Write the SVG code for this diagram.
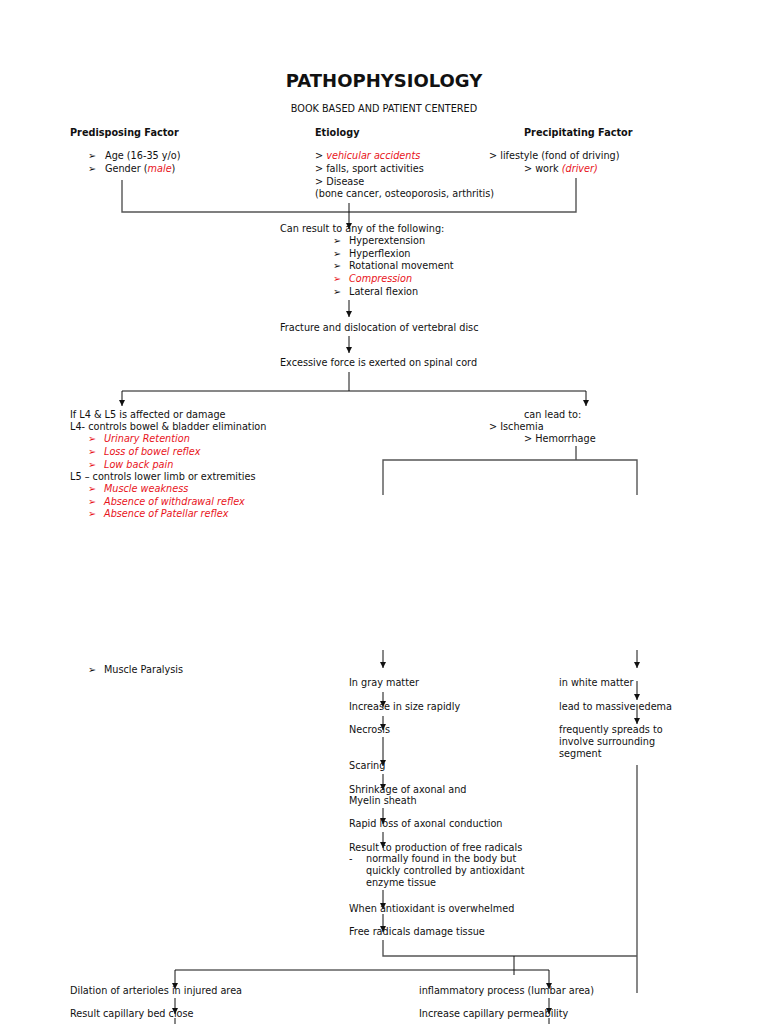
<svg xmlns="http://www.w3.org/2000/svg" width="768" height="1024" viewBox="0 0 768 1024">
<style>
text{font-family:"DejaVu Sans","Verdana",sans-serif;font-size:9.7px;fill:#111}
.b{font-weight:bold}
.r{fill:#e8141b;font-style:italic}
.rb{fill:#e8141b}
.t{font-size:18px;font-weight:bold}
.ln{stroke:#555;stroke-width:1.4;fill:none}
.th{stroke:#111;stroke-width:1;fill:none}
.ar{stroke:#111;stroke-width:1;fill:none;marker-end:url(#ah)}
</style>
<defs>
<marker id="ah" markerUnits="userSpaceOnUse" markerWidth="7" markerHeight="6" refX="6" refY="3" orient="auto" viewBox="0 0 7 6">
<path d="M0,0 L6,3 L0,6 Z" fill="#111"/>
</marker>
</defs>
<rect width="768" height="1024" fill="#fff"/>

<g id="header">
<text class="t" x="384" y="87" text-anchor="middle">PATHOPHYSIOLOGY</text>
<text x="384" y="112" text-anchor="middle">BOOK BASED AND PATIENT CENTERED</text>
</g>

<g id="predisposing">
<text class="b" x="70" y="136">Predisposing Factor</text>
<text x="88" y="159">➢</text><text x="105" y="159">Age (16-35 y/o)</text>
<text x="88" y="172">➢</text><text x="105" y="172">Gender (<tspan class="r">male</tspan>)</text>
</g>

<g id="etiology">
<text class="b" x="315" y="136">Etiology</text>
<text x="315" y="159">&gt; <tspan class="r">vehicular accidents</tspan></text>
<text x="315" y="172">&gt; falls, sport activities</text>
<text x="315" y="185">&gt; Disease</text>
<text x="315" y="197">(bone cancer, osteoporosis, arthritis)</text>
</g>

<g id="precipitating">
<text class="b" x="524" y="136">Precipitating Factor</text>
<text x="489" y="159">&gt; lifestyle (fond of driving)</text>
<text x="524" y="172">&gt; work <tspan class="r">(driver)</tspan></text>
</g>

<g id="result">
<text x="280" y="232">Can result to any of the following:</text>
<text x="333" y="244">➢</text><text x="349" y="244">Hyperextension</text>
<text x="333" y="257">➢</text><text x="349" y="257">Hyperflexion</text>
<text x="333" y="269">➢</text><text x="349" y="269">Rotational movement</text>
<text class="rb" x="333" y="282">➢</text><text class="r" x="349" y="282">Compression</text>
<text x="333" y="295">➢</text><text x="349" y="295">Lateral flexion</text>
</g>

<g id="fracture"><text x="280" y="331">Fracture and dislocation of vertebral disc</text></g>
<g id="force"><text x="280" y="366">Excessive force is exerted on spinal cord</text></g>

<g id="l4l5">
<text x="70" y="418">If L4 &amp; L5 is affected or damage</text>
<text x="70" y="430">L4- controls bowel &amp; bladder elimination</text>
<text class="rb" x="88" y="442">➢</text><text class="r" x="104" y="442">Urinary Retention</text>
<text class="rb" x="88" y="455">➢</text><text class="r" x="104" y="455">Loss of bowel reflex</text>
<text class="rb" x="88" y="468">➢</text><text class="r" x="104" y="468">Low back pain</text>
<text x="70" y="480">L5 – controls lower limb or extremities</text>
<text class="rb" x="88" y="492">➢</text><text class="r" x="104" y="492">Muscle weakness</text>
<text class="rb" x="88" y="505">➢</text><text class="r" x="104" y="505">Absence of withdrawal reflex</text>
<text class="rb" x="88" y="517">➢</text><text class="r" x="104" y="517">Absence of Patellar reflex</text>
</g>

<g id="paralysis">
<text x="88" y="673">➢</text><text x="104" y="673">Muscle Paralysis</text>
</g>

<g id="leadto">
<text x="524" y="418">can lead to:</text>
<text x="489" y="430">&gt; Ischemia</text>
<text x="524" y="442">&gt; Hemorrhage</text>
</g>

<g id="gray">
<text x="349" y="686">In gray matter</text>
<text x="349" y="710">Increase in size rapidly</text>
<text x="349" y="733">Necrosis</text>
<text x="349" y="769">Scaring</text>
<text x="349" y="793">Shrinkage of axonal and</text>
<text x="349" y="804">Myelin sheath</text>
<text x="349" y="827">Rapid loss of axonal conduction</text>
<text x="349" y="851">Result to production of free radicals</text>
<text x="349" y="862">-</text><text x="366" y="862">normally found in the body but</text>
<text x="366" y="874">quickly controlled by antioxidant</text>
<text x="366" y="886">enzyme tissue</text>
<text x="349" y="912">When antioxidant is overwhelmed</text>
<text x="349" y="935">Free radicals damage tissue</text>
</g>

<g id="white">
<text x="559" y="686">in white matter</text>
<text x="559" y="710">lead to massive edema</text>
<text x="559" y="733">frequently spreads to</text>
<text x="559" y="745">involve surrounding</text>
<text x="559" y="757">segment</text>
</g>

<g id="dilation">
<text x="70" y="994">Dilation of arterioles in injured area</text>
<text x="70" y="1017">Result capillary bed close</text>
</g>

<g id="inflammatory">
<text x="419" y="994">inflammatory process (lumbar area)</text>
<text x="419" y="1017">Increase capillary permeability</text>
</g>

<g id="connectors">
<polyline class="ln" points="122,180 122,212 576,212 576,178"/>
<line class="ar" x1="349" y1="203" x2="349" y2="229"/>
<line class="ar" x1="349" y1="300" x2="349" y2="317"/>
<line class="ar" x1="349" y1="336" x2="349" y2="353"/>
<line class="th" x1="349" y1="372" x2="349" y2="391"/>
<line class="th" x1="122" y1="391" x2="586" y2="391"/>
<line class="ar" x1="122" y1="391" x2="122" y2="406"/>
<line class="ar" x1="586" y1="391" x2="586" y2="406"/>
<line class="th" x1="576" y1="446" x2="576" y2="460"/>
<polyline class="ln" points="383,495 383,460 637,460 637,495"/>
<line class="ar" x1="383" y1="650" x2="383" y2="668"/>
<line class="ar" x1="637" y1="650" x2="637" y2="668"/>
<line class="ar" x1="383" y1="692" x2="383" y2="707"/>
<line class="ar" x1="383" y1="716" x2="383" y2="730"/>
<line class="ar" x1="383" y1="737" x2="383" y2="766"/>
<line class="ar" x1="383" y1="774" x2="383" y2="790"/>
<line class="ar" x1="383" y1="808" x2="383" y2="824"/>
<line class="ar" x1="383" y1="832" x2="383" y2="848"/>
<line class="ar" x1="383" y1="890" x2="383" y2="909"/>
<line class="ar" x1="383" y1="914" x2="383" y2="932"/>
<line class="ar" x1="637" y1="681" x2="637" y2="700"/>
<line class="ar" x1="637" y1="704" x2="637" y2="724"/>
<polyline class="ln" points="383,940 383,956 637,956"/>
<line class="ln" x1="637" y1="765" x2="637" y2="993"/>
<line class="th" x1="514" y1="956" x2="514" y2="975"/>
<line class="th" x1="175" y1="970" x2="549" y2="970"/>
<line class="ar" x1="175" y1="970" x2="175" y2="989"/>
<line class="ar" x1="549" y1="970" x2="549" y2="989"/>
<line class="ar" x1="175" y1="998" x2="175" y2="1014"/>
<line class="ar" x1="549" y1="998" x2="549" y2="1014"/>
<line class="th" x1="175" y1="1018" x2="175" y2="1024"/>
<line class="th" x1="549" y1="1018" x2="549" y2="1024"/>
</g>
</svg>
